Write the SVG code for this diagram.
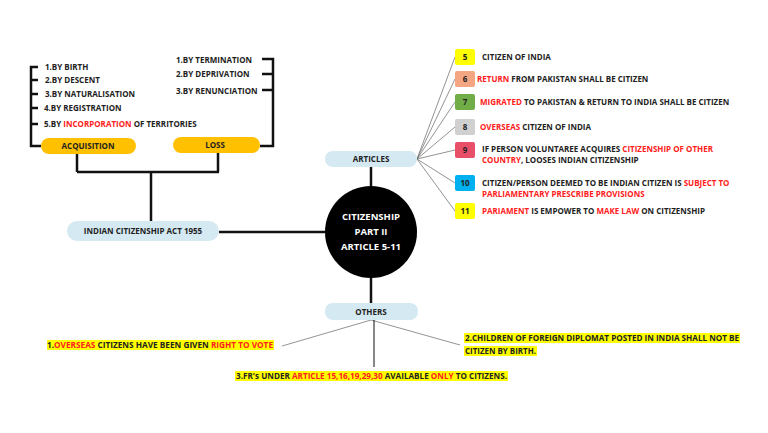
<svg xmlns="http://www.w3.org/2000/svg" width="768" height="433" viewBox="0 0 768 433">
<style>
text{font-family:"Open Sans","Liberation Sans",sans-serif;font-weight:bold;font-size:8px;fill:#222}
.r{fill:#ff2020}
.pill{fill:#d4e9f2}
.gold{fill:#ffc000}
.thick{stroke:#111;stroke-width:2.5;fill:none}
.thin{stroke:#777;stroke-width:0.8;fill:none}
.hl{fill:#ffff00}
.w{fill:#fff;font-size:9.5px}
</style>
<rect width="768" height="433" fill="#fff"/>
<g id="connectors">
<path class="thick" d="M371,186V167M371,278V303M219,232H325M151,221V172M77,172H219M77,150V172M218,150V172"/>
<path class="thick" d="M38,67H31V146H41M31,80H38M31,94H38M31,108H38M31,124H38"/>
<path class="thick" d="M262,59H273V146H260M262,74H273M262,90H273"/>
<path class="thin" d="M417,159L455,57M417,159L455,79M417,159L455,102M417,159L455,127M417,159L455,150M417,159L455,183M417,159L455,211"/>
<path class="thin" d="M371,320L282,346M371,320L460,345"/>
<path stroke="#111" stroke-width="1" d="M374,320V367"/>
</g>
<g id="center"><circle cx="371" cy="232" r="46" fill="#000"/>
<text class="w" x="371" y="220" text-anchor="middle">CITIZENSHIP</text>
<text class="w" x="371" y="235" text-anchor="middle">PART II</text>
<text class="w" x="371" y="250" text-anchor="middle">ARTICLE 5-11</text></g>
<g id="articles"><rect class="pill" x="325" y="151" width="92" height="16" rx="8"/><text x="371" y="162" text-anchor="middle">ARTICLES</text></g>
<g id="others"><rect class="pill" x="325" y="303" width="93" height="17" rx="8"/><text x="371" y="315" text-anchor="middle">OTHERS</text></g>
<g id="act"><rect class="pill" x="67" y="221" width="152" height="20" rx="10"/><text x="143" y="234" text-anchor="middle">INDIAN CITIZENSHIP ACT 1955</text></g>
<g id="acquisition"><rect class="gold" x="41" y="138" width="95" height="16" rx="8"/><text x="88" y="149" text-anchor="middle">ACQUISITION</text></g>
<g id="loss"><rect class="gold" x="173" y="137" width="87" height="16" rx="8"/><text x="215" y="148" text-anchor="middle">LOSS</text></g>
<g id="acq-items">
<text x="45" y="70">1.BY BIRTH</text>
<text x="45" y="83">2.BY DESCENT</text>
<text x="45" y="97">3.BY NATURALISATION</text>
<text x="44" y="111">4.BY REGISTRATION</text>
<text x="44" y="127">5.BY <tspan class="r">INCORPORATION</tspan> OF TERRITORIES</text>
</g>
<g id="loss-items">
<text x="176" y="63">1.BY TERMINATION</text>
<text x="176" y="77">2.BY DEPRIVATION</text>
<text x="176" y="94">3.BY RENUNCIATION</text>
</g>
<g id="art5"><rect x="455" y="49" width="20" height="16" rx="2" fill="#ffff00"/><text x="465" y="60" text-anchor="middle">5</text><text x="482" y="60">CITIZEN OF INDIA</text></g>
<g id="art6"><rect x="455" y="71" width="20" height="16" rx="2" fill="#f4a582"/><text x="465" y="82" text-anchor="middle">6</text><text x="477" y="82"><tspan class="r">RETURN</tspan> FROM PAKISTAN SHALL BE CITIZEN</text></g>
<g id="art7"><rect x="455" y="94" width="20" height="16" rx="2" fill="#70ad47"/><text x="465" y="105" text-anchor="middle">7</text><text x="480" y="105"><tspan class="r">MIGRATED</tspan> TO PAKISTAN &amp; RETURN TO INDIA SHALL BE CITIZEN</text></g>
<g id="art8"><rect x="455" y="119" width="20" height="16" rx="2" fill="#d0d0d0"/><text x="465" y="130" text-anchor="middle">8</text><text x="480" y="130"><tspan class="r">OVERSEAS</tspan> CITIZEN OF INDIA</text></g>
<g id="art9"><rect x="455" y="142" width="20" height="16" rx="2" fill="#e8506a"/><text x="465" y="153" text-anchor="middle">9</text><text x="482" y="152">IF PERSON VOLUNTAREE ACQUIRES <tspan class="r">CITIZENSHIP OF OTHER</tspan></text><text x="482" y="163"><tspan class="r">COUNTRY</tspan>, LOOSES INDIAN CITIZENSHIP</text></g>
<g id="art10"><rect x="455" y="175" width="20" height="16" rx="2" fill="#00b0f0"/><text x="465" y="186" text-anchor="middle">10</text><text x="482" y="186">CITIZEN/PERSON DEEMED TO BE INDIAN CITIZEN IS <tspan class="r">SUBJECT TO</tspan></text><text x="482" y="197" class="r">PARLIAMENTARY PRESCRIBE PROVISIONS</text></g>
<g id="art11"><rect x="455" y="203" width="20" height="16" rx="2" fill="#ffff00"/><text x="465" y="214" text-anchor="middle">11</text><text x="482" y="214"><tspan class="r">PARIAMENT</tspan> IS EMPOWER TO <tspan class="r">MAKE LAW</tspan> ON CITIZENSHIP</text></g>
<g id="other1"><rect class="hl" x="47" y="340" width="227" height="10"/><text x="47" y="348" textLength="226" lengthAdjust="spacingAndGlyphs">1.<tspan class="r">OVERSEAS</tspan> CITIZENS HAVE BEEN GIVEN <tspan class="r">RIGHT TO VOTE</tspan></text></g>
<g id="other2"><rect class="hl" x="464" y="333" width="276" height="10"/><rect class="hl" x="464" y="346" width="73" height="10"/><text x="465" y="341" textLength="274" lengthAdjust="spacingAndGlyphs">2.CHILDREN OF FOREIGN DIPLOMAT POSTED IN INDIA SHALL NOT BE</text><text x="465" y="354" textLength="71" lengthAdjust="spacingAndGlyphs">CITIZEN BY BIRTH.</text></g>
<g id="other3"><rect class="hl" x="235" y="371" width="273" height="10"/><text x="236" y="379" textLength="271" lengthAdjust="spacingAndGlyphs">3.FR's UNDER <tspan class="r">ARTICLE 15,16,19,29,30</tspan> AVAILABLE <tspan class="r">ONLY</tspan> TO CITIZENS.</text></g>
</svg>
